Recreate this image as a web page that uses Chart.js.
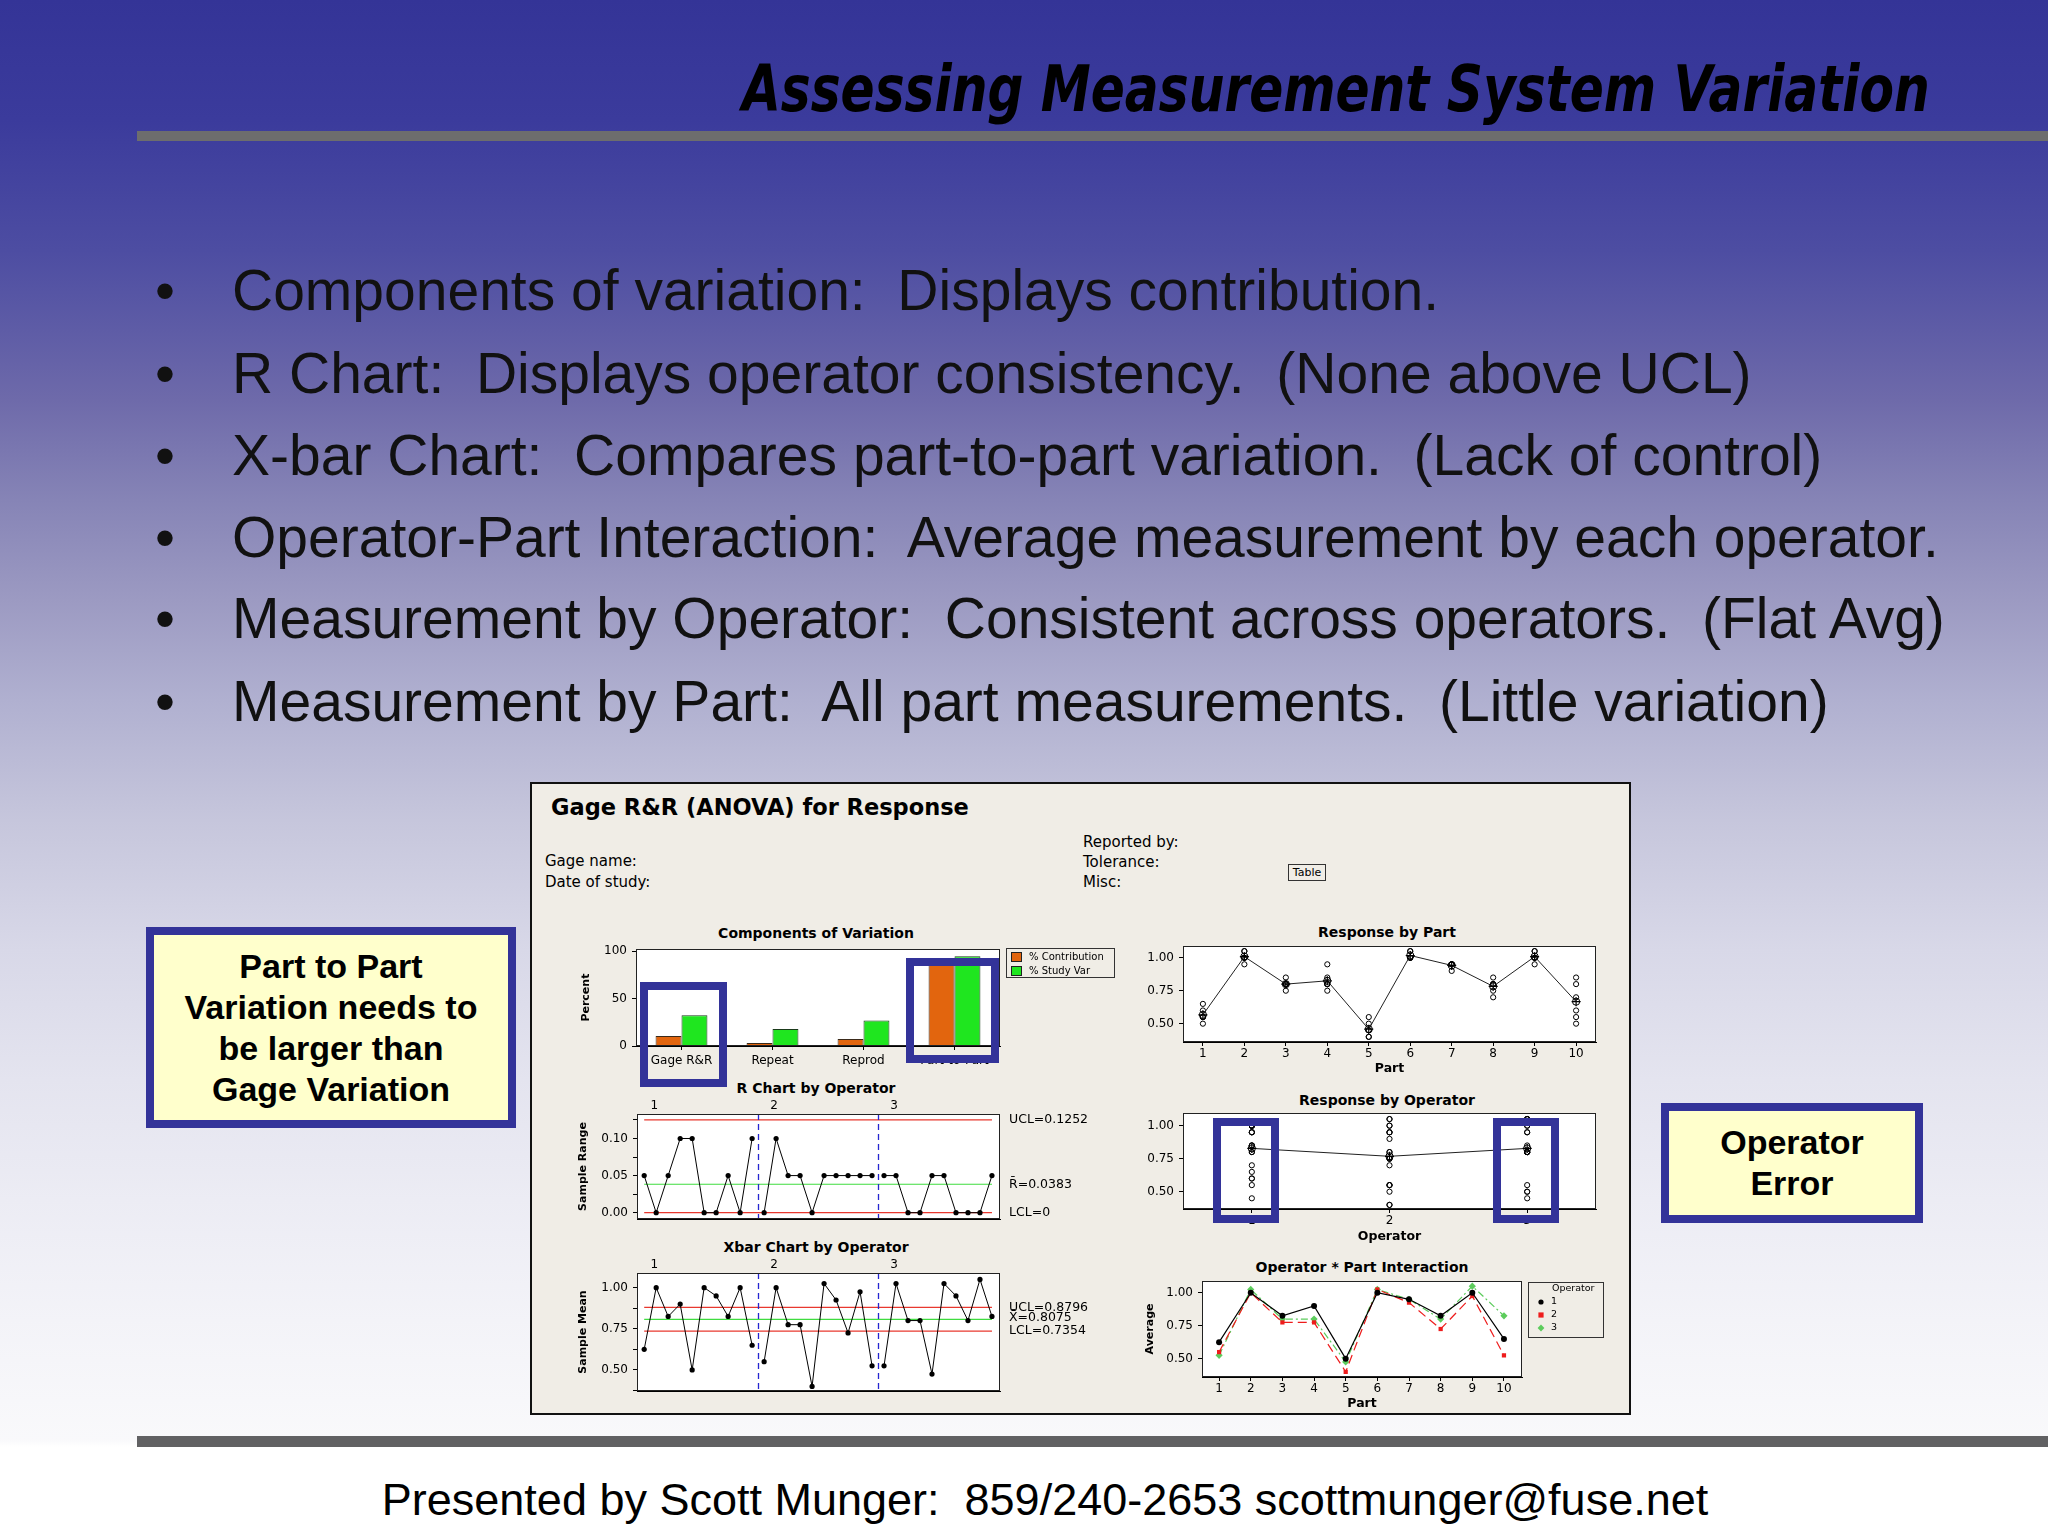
<!DOCTYPE html>
<html lang="en">
<head>
<meta charset="utf-8">
<title>Assessing Measurement System Variation</title>
<script src="https://cdn.jsdelivr.net/npm/chart.js@4.4.1/dist/chart.umd.min.js"></script>
<style>
  html, body { margin: 0; padding: 0; }
  body {
    width: 2048px; height: 1536px; position: relative; overflow: hidden;
    font-family: "Liberation Sans", Arial, sans-serif; color: #111;
    background: linear-gradient(to bottom,
      #343497 0px, #3b3b9c 120px, #4d4da2 250px, #5e5ca6 330px, #6e6aaa 400px,
      #8684b6 500px, #9c9ac2 600px, #b0b0d0 700px, #c6c6dc 820px, #d8d8e8 950px,
      #e4e4ef 1080px, #ececf4 1200px, #f3f3f8 1320px, #f9f9fb 1440px, #ffffff 1447px);
  }
  .t { position: absolute; white-space: pre; line-height: 1; }
  .mid { transform: translateY(-50%); }
  .ctr { transform: translate(-50%, -50%); }
  .bar { position: absolute; left: 137px; right: 0; }
  .bullet { font-size: 57px; }
  #title { right: 118px; top: 89px; font: italic bold 64px "DejaVu Sans", sans-serif; color: #000;
           transform-origin: right center; }
  #panel { position: absolute; left: 530px; top: 782px; width: 1101px; height: 633px;
           box-sizing: border-box; background: #f0ede6; border: 2px solid #111; }
  .mt { font-family: "DejaVu Sans", sans-serif; color: #000; }
  .ct { font: bold 14px "DejaVu Sans", sans-serif; color: #000; }
  canvas { position: absolute; }
  .hl { position: absolute; box-sizing: border-box; border: 8px solid #333399; z-index: 5; }
  .callout { position: absolute; box-sizing: border-box; border: 8px solid #333399; background: #ffffcc;
             display: flex; align-items: center; justify-content: center; text-align: center;
             font: bold 34px "Liberation Sans", Arial, sans-serif; line-height: 41px; color: #000; }
</style>
</head>
<body>

<div id="title" class="t">Assessing Measurement System Variation</div>
<div class="bar" style="top:131px;height:10px;background:#6d6d6d"></div>

<div class="t mid bullet" style="left:155px;top:290px">•</div>
<div class="t mid bullet" style="left:232px;top:290px">Components of variation:  Displays contribution.</div>
<div class="t mid bullet" style="left:155px;top:373px">•</div>
<div class="t mid bullet" style="left:232px;top:373px">R Chart:  Displays operator consistency.  (None above UCL)</div>
<div class="t mid bullet" style="left:155px;top:455px">•</div>
<div class="t mid bullet" style="left:232px;top:455px">X-bar Chart:  Compares part-to-part variation.  (Lack of control)</div>
<div class="t mid bullet" style="left:155px;top:537px">•</div>
<div class="t mid bullet" style="left:232px;top:537px">Operator-Part Interaction:  Average measurement by each operator.</div>
<div class="t mid bullet" style="left:155px;top:618px">•</div>
<div class="t mid bullet" style="left:232px;top:618px">Measurement by Operator:  Consistent across operators.  (Flat Avg)</div>
<div class="t mid bullet" style="left:155px;top:701px">•</div>
<div class="t mid bullet" style="left:232px;top:701px">Measurement by Part:  All part measurements.  (Little variation)</div>

<div id="panel"></div>
<div class="t mid mt" style="left:551px;top:807px;font-weight:bold;font-size:22.5px">Gage R&amp;R (ANOVA) for Response</div>
<div class="t mid mt" style="left:545px;top:861px;font-size:15px">Gage name:</div>
<div class="t mid mt" style="left:545px;top:882px;font-size:15px">Date of study:</div>
<div class="t mid mt" style="left:1083px;top:842px;font-size:15px">Reported by:</div>
<div class="t mid mt" style="left:1083px;top:862px;font-size:15px">Tolerance:</div>
<div class="t mid mt" style="left:1083px;top:882px;font-size:15px">Misc:</div>
<div class="t mt" style="left:1288px;top:864px;width:38px;height:17px;box-sizing:border-box;border:1px solid #333;font-size:11px;line-height:15px;text-align:center">Table</div>

<div class="t ctr ct" style="left:816px;top:933px">Components of Variation</div>
<div class="t ctr ct" style="left:816px;top:1088px">R Chart by Operator</div>
<div class="t ctr ct" style="left:816px;top:1247px">Xbar Chart by Operator</div>
<div class="t ctr ct" style="left:1387px;top:932px">Response by Part</div>
<div class="t ctr ct" style="left:1387px;top:1100px">Response by Operator</div>
<div class="t ctr ct" style="left:1362px;top:1267px">Operator * Part Interaction</div>

<canvas id="cov"></canvas>
<canvas id="rchart"></canvas>
<canvas id="xbar"></canvas>
<canvas id="bypart"></canvas>
<canvas id="byoper"></canvas>
<canvas id="inter"></canvas>

<div class="hl" style="left:640px;top:982px;width:87px;height:105px"></div>
<div class="hl" style="left:906px;top:958px;width:93px;height:105px"></div>
<div class="hl" style="left:1213px;top:1118px;width:66px;height:105px"></div>
<div class="hl" style="left:1493px;top:1118px;width:66px;height:105px"></div>

<div class="callout" style="left:146px;top:927px;width:370px;height:201px">Part to Part<br>Variation needs to<br>be larger than<br>Gage Variation</div>
<div class="callout" style="left:1661px;top:1103px;width:262px;height:120px">Operator<br>Error</div>

<div class="bar" style="top:1436px;height:11px;background:#616163"></div>
<div class="t ctr" style="left:1045px;top:1499px;font-size:45px;color:#000">Presented by Scott Munger:  859/240-2653 scottmunger@fuse.net</div>

<script>
const components = ['Gage R&R', 'Repeat', 'Reprod', 'Part-to-Part'];
const pctContribution = [10.5, 3.2, 7.3, 89.5];
const pctStudyVar = [32.4, 17.9, 27.0, 94.6];

const parts = [1, 2, 3, 4, 5, 6, 7, 8, 9, 10];
const operators = [1, 2, 3];

// subgroup ranges (R chart), one array per operator
const rangeOp1 = [0.05, 0.00, 0.05, 0.10, 0.10, 0.00, 0.00, 0.05, 0.00, 0.10];
const rangeOp2 = [0.00, 0.10, 0.05, 0.05, 0.00, 0.05, 0.05, 0.05, 0.05, 0.05];
const rangeOp3 = [0.05, 0.05, 0.00, 0.00, 0.05, 0.05, 0.00, 0.00, 0.00, 0.05];

// subgroup means (Xbar chart and interaction plot)
const meanOp1 = [0.625, 1.000, 0.825, 0.900, 0.500, 1.000, 0.950, 0.825, 1.000, 0.650];
const meanOp2 = [0.550, 1.000, 0.775, 0.775, 0.400, 1.025, 0.925, 0.725, 0.975, 0.525];
const meanOp3 = [0.525, 1.025, 0.800, 0.800, 0.475, 1.025, 0.950, 0.800, 1.050, 0.825];

// individual measurements, two trials per operator
const op1Trial1 = [0.60, 1.00, 0.80, 0.85, 0.45, 1.00, 0.95, 0.80, 1.00, 0.60];
const op1Trial2 = [0.65, 1.00, 0.85, 0.95, 0.55, 1.00, 0.95, 0.85, 1.00, 0.70];
const op2Trial1 = [0.55, 0.95, 0.75, 0.75, 0.40, 1.00, 0.90, 0.70, 0.95, 0.50];
const op2Trial2 = [0.55, 1.05, 0.80, 0.80, 0.40, 1.05, 0.95, 0.75, 1.00, 0.55];
const op3Trial1 = [0.50, 1.00, 0.80, 0.80, 0.45, 1.00, 0.95, 0.80, 1.05, 0.80];
const op3Trial2 = [0.55, 1.05, 0.80, 0.80, 0.50, 1.05, 0.95, 0.80, 1.05, 0.85];

const partMeans = [0.567, 1.008, 0.800, 0.825, 0.458, 1.017, 0.942, 0.783, 1.008, 0.667];
const operatorMeans = [0.828, 0.768, 0.828];

// control limits: UCL, centre, LCL
const rLimits = [0.1252, 0.0383, 0];
const xbarLimits = [0.8796, 0.8075, 0.7354];

// axis ticks
const percentTicks = [0, 50, 100];
const rangeTicks = [0, 0.025, 0.05, 0.075, 0.10, 0.125];
const rangeTickLabels = [0, 0.05, 0.10];
const meanTicks = [0.375, 0.50, 0.625, 0.75, 0.875, 1.00];
const meanTickLabels = [0.50, 0.75, 1.00];
const responseTicks = [0.50, 0.75, 1.00];

// ---- layout (page pixels): canvas box and plot area [left, top, right, bottom] ----
const POS = {
  cov:    { box: [575, 937, 1125, 1080],  plot: [636, 949, 1000, 1046] },
  rchart: { box: [575, 1095, 1125, 1234], plot: [637, 1114, 1000, 1219] },
  xbar:   { box: [575, 1255, 1125, 1406], plot: [637, 1273, 1000, 1391] },
  bypart: { box: [1135, 930, 1605, 1078], plot: [1183, 946, 1596, 1042] },
  byoper: { box: [1135, 1097, 1605, 1246], plot: [1183, 1113, 1596, 1209] },
  inter:  { box: [1135, 1265, 1615, 1413], plot: [1202, 1281, 1522, 1377] }
};

const FONT = 'DejaVu Sans';
const ORANGE = '#e2650e';
const GREEN = '#1fe61f';
const RED = '#e8382f';
const CENTER = '#3fdc3f';

Chart.defaults.font.family = FONT;
Chart.defaults.color = '#000';

// fit the slide title to its width in the reference
(function () {
  const el = document.getElementById('title');
  const k = 1188 / el.offsetWidth;
  el.style.transform = 'translateY(-50%) scaleX(' + k + ')';
})();

function placeCanvas(id) {
  const c = document.getElementById(id);
  const [l, t, r, b] = POS[id].box;
  c.width = r - l; c.height = b - t;
  c.style.left = l + 'px'; c.style.top = t + 'px';
  c.style.width = (r - l) + 'px'; c.style.height = (b - t) + 'px';
  return c;
}

function margins(id) {
  const [bl, bt, br, bb] = POS[id].box;
  const [pl, pt, pr, pb] = POS[id].plot;
  return { left: pl - bl, top: pt - bt, right: br - pr, bottom: bb - pb };
}

function axisTitle(text, size, pad) {
  if (!text) return { display: false };
  return { display: true, text: text, color: '#000',
           font: { family: FONT, size: size, weight: 'bold' }, padding: pad };
}

function yScale(m, o) {
  return {
    type: 'linear', position: 'left', min: o.min, max: o.max,
    afterFit: s => { s.width = m.left; },
    afterBuildTicks: s => { s.ticks = o.ticks.map(v => ({ value: v })); },
    grid: { drawOnChartArea: false, drawTicks: true, tickLength: 4, color: '#000' },
    border: { display: true, color: '#000' },
    ticks: { autoSkip: false, padding: 5, font: { size: 12 },
             callback: v => (o.labels.includes(v) ? o.fmt(v) : '') },
    title: axisTitle(o.title, 11, { top: o.titlePad || 0, bottom: 0 })
  };
}

function xLinear(m, o) {
  const shown = o.ticks !== undefined;
  return {
    type: 'linear', position: 'bottom', min: o.min, max: o.max,
    afterFit: s => { s.height = m.bottom; },
    afterBuildTicks: s => { if (shown) s.ticks = o.ticks.map(v => ({ value: v })); },
    grid: { drawOnChartArea: false, drawTicks: shown, tickLength: shown ? 4 : 0, color: '#000' },
    border: { display: true, color: '#000' },
    ticks: { display: shown, autoSkip: false, maxRotation: 0, padding: 1, font: { size: 12 }, callback: v => String(v) },
    title: axisTitle(o.title, 12.5, { top: 0, bottom: 1.5 })
  };
}

function baseOptions(m, scales, extra) {
  return {
    responsive: false, animation: false, events: [],
    layout: { padding: { left: 0, top: m.top, right: m.right, bottom: 0 } },
    plugins: Object.assign({ legend: { display: false }, tooltip: { enabled: false } }, extra || {}),
    scales: scales
  };
}

// white plot area with a thin frame, as in Minitab graphs
const framePlugin = {
  id: 'frame',
  beforeDraw(chart) {
    const { ctx, chartArea: a } = chart;
    ctx.save(); ctx.fillStyle = '#fff'; ctx.fillRect(a.left, a.top, a.width, a.height); ctx.restore();
  },
  afterDraw(chart) {
    const { ctx, chartArea: a } = chart;
    ctx.save(); ctx.strokeStyle = '#222'; ctx.lineWidth = 1;
    ctx.strokeRect(Math.round(a.left) + 0.5, Math.round(a.top) + 0.5, Math.round(a.width) - 1, Math.round(a.height) - 1);
    ctx.restore();
  }
};

// dashed stage breaks and operator labels on the control charts
const stagePlugin = {
  id: 'stages',
  afterDatasetsDraw(chart, args, opts) {
    if (!opts.labels) return;
    const { ctx, chartArea: a, scales: { x } } = chart;
    ctx.save();
    ctx.strokeStyle = '#2626d0'; ctx.lineWidth = 1.3; ctx.setLineDash([6, 4]);
    for (let s = 1; s < opts.labels.length; s++) {
      const px = Math.round(x.getPixelForValue(s * opts.size - 0.5)) + 0.5;
      ctx.beginPath(); ctx.moveTo(px, a.top); ctx.lineTo(px, a.bottom); ctx.stroke();
    }
    ctx.setLineDash([]);
    ctx.fillStyle = '#000'; ctx.font = '12px ' + FONT; ctx.textAlign = 'center'; ctx.textBaseline = 'bottom';
    opts.labels.forEach((t, s) => ctx.fillText(String(t), x.getPixelForValue(s * opts.size) + 10, a.top - 2));
    ctx.restore();
  }
};

// control limit labels to the right of the plot
const sideLabelPlugin = {
  id: 'sideLabels',
  afterDraw(chart, args, opts) {
    if (!opts.items) return;
    const { ctx, chartArea: a, scales: { y } } = chart;
    ctx.save();
    ctx.fillStyle = '#000'; ctx.font = '12.5px ' + FONT; ctx.textAlign = 'left'; ctx.textBaseline = 'middle';
    opts.items.forEach(it => ctx.fillText(it.text, a.right + 9, y.getPixelForValue(it.value) + (it.dy || 0)));
    ctx.restore();
  }
};

function marker(ctx, style, x, y, r) {
  ctx.beginPath();
  if (style === 'rect') ctx.rect(x - r, y - r, 2 * r, 2 * r);
  else if (style === 'rectRot') { ctx.moveTo(x, y - r * 1.3); ctx.lineTo(x + r * 1.3, y); ctx.lineTo(x, y + r * 1.3); ctx.lineTo(x - r * 1.3, y); ctx.closePath(); }
  else ctx.arc(x, y, r, 0, Math.PI * 2);
  ctx.fill();
}

const covLegend = {
  id: 'covLegend',
  afterDraw(chart) {
    const { ctx, chartArea: a } = chart;
    const x0 = Math.round(a.right) + 6, y0 = Math.round(a.top) - 1;
    ctx.save();
    ctx.strokeStyle = '#333'; ctx.lineWidth = 1; ctx.strokeRect(x0 + 0.5, y0 + 0.5, 108, 29);
    ctx.font = '10px ' + FONT; ctx.textAlign = 'left'; ctx.textBaseline = 'middle';
    chart.data.datasets.forEach((ds, i) => {
      const cy = y0 + 9 + i * 14;
      ctx.fillStyle = ds.backgroundColor; ctx.fillRect(x0 + 5, cy - 5, 11, 10);
      ctx.strokeStyle = '#222'; ctx.strokeRect(x0 + 5.5, cy - 4.5, 10, 9);
      ctx.fillStyle = '#000'; ctx.fillText(ds.label, x0 + 23, cy);
    });
    ctx.restore();
  }
};

const interLegend = {
  id: 'interLegend',
  afterDraw(chart) {
    const { ctx, chartArea: a } = chart;
    const x0 = Math.round(a.right) + 6, y0 = Math.round(a.top) + 1;
    ctx.save();
    ctx.strokeStyle = '#333'; ctx.lineWidth = 1; ctx.strokeRect(x0 + 0.5, y0 + 0.5, 75, 55);
    ctx.font = '9.5px ' + FONT; ctx.textAlign = 'left'; ctx.textBaseline = 'middle'; ctx.fillStyle = '#000';
    ctx.fillText('Operator', x0 + 24, y0 + 7);
    chart.data.datasets.forEach((ds, i) => {
      const cy = y0 + 20 + i * 13;
      ctx.fillStyle = ds.pointBackgroundColor; marker(ctx, ds.pointStyle, x0 + 13, cy, 2.6);
      ctx.fillStyle = '#000'; ctx.fillText(ds.label, x0 + 23, cy);
    });
    ctx.restore();
  }
};

// ---- helpers that turn the arrays into chart points ----
const stageSize = parts.length;
const lastSubgroup = operators.length * stageSize - 1;
const stagePoints = (values, stage) => values.map((v, i) => ({ x: stage * stageSize + i, y: v }));
const limitLine = v => [{ x: 0, y: v }, { x: lastSubgroup, y: v }];
const byPart = values => parts.map((p, i) => ({ x: p, y: values[i] }));
const atX = (x, values) => values.map(v => ({ x: x, y: v }));

function stageSet(values, stage) {
  return { data: stagePoints(values, stage), showLine: true, borderColor: '#000', borderWidth: 1,
           pointRadius: 2.6, pointBackgroundColor: '#000', pointBorderWidth: 0 };
}
function limitSet(v, color) {
  return { data: limitLine(v), showLine: true, borderColor: color, borderWidth: 1.2, pointRadius: 0 };
}
const openCircles = data => ({ data: data, pointStyle: 'circle', pointRadius: 2.6, pointBorderWidth: 1,
                               pointBorderColor: '#000', pointBackgroundColor: 'rgba(0,0,0,0)' });
const meanLine = data => ({ data: data, showLine: true, borderColor: '#222', borderWidth: 1, pointStyle: 'circle',
                            pointRadius: 3.6, pointBorderWidth: 1, pointBorderColor: '#000', pointBackgroundColor: 'rgba(0,0,0,0)' });
const meanCross = data => ({ data: data, pointStyle: 'cross', pointRadius: 4.5, pointBorderWidth: 1.2, pointBorderColor: '#000' });

// ---- Components of Variation ----
(function () {
  const m = margins('cov');
  new Chart(placeCanvas('cov'), {
    type: 'bar',
    data: {
      labels: components,
      datasets: [
        { label: '% Contribution', data: pctContribution, backgroundColor: ORANGE, borderColor: '#3a2a1a',
          borderWidth: 1, categoryPercentage: 0.57, barPercentage: 1 },
        { label: '% Study Var', data: pctStudyVar, backgroundColor: GREEN, borderColor: '#1a3a1a',
          borderWidth: 1, categoryPercentage: 0.57, barPercentage: 1 }
      ]
    },
    options: baseOptions(m, {
      x: { type: 'category', offset: true, afterFit: s => { s.height = m.bottom; },
           grid: { offset: false, drawOnChartArea: false, tickLength: 4, color: '#000' },
           border: { display: true, color: '#000' },
           ticks: { autoSkip: false, maxRotation: 0, padding: 4, font: { size: 12 } } },
      y: yScale(m, { min: 0, max: 102, ticks: percentTicks, labels: percentTicks, fmt: v => String(v),
                     title: 'Percent', titlePad: 5 })
    }),
    plugins: [framePlugin, covLegend]
  });
})();

// ---- R Chart by Operator ----
(function () {
  const m = margins('rchart');
  new Chart(placeCanvas('rchart'), {
    type: 'scatter',
    data: { datasets: [
      stageSet(rangeOp1, 0), stageSet(rangeOp2, 1), stageSet(rangeOp3, 2),
      limitSet(rLimits[0], RED), limitSet(rLimits[1], CENTER), limitSet(rLimits[2], RED)
    ] },
    options: baseOptions(m, {
      x: xLinear(m, { min: -0.6, max: lastSubgroup + 0.67 }),
      y: yScale(m, { min: -0.0085, max: 0.133, ticks: rangeTicks, labels: rangeTickLabels,
                     fmt: v => v.toFixed(2), title: 'Sample Range', titlePad: 1.4 })
    }, {
      stages: { labels: operators, size: stageSize },
      sideLabels: { items: [
        { value: rLimits[0], text: 'UCL=' + rLimits[0] },
        { value: rLimits[1], text: 'R\u0304=' + rLimits[1] },
        { value: rLimits[2], text: 'LCL=' + rLimits[2] }
      ] }
    }),
    plugins: [framePlugin, stagePlugin, sideLabelPlugin]
  });
})();

// ---- Xbar Chart by Operator ----
(function () {
  const m = margins('xbar');
  new Chart(placeCanvas('xbar'), {
    type: 'scatter',
    data: { datasets: [
      stageSet(meanOp1, 0), stageSet(meanOp2, 1), stageSet(meanOp3, 2),
      limitSet(xbarLimits[0], RED), limitSet(xbarLimits[1], CENTER), limitSet(xbarLimits[2], RED)
    ] },
    options: baseOptions(m, {
      x: xLinear(m, { min: -0.6, max: lastSubgroup + 0.67 }),
      y: yScale(m, { min: 0.372, max: 1.089, ticks: meanTicks, labels: meanTickLabels,
                     fmt: v => v.toFixed(2), title: 'Sample Mean', titlePad: 1.4 })
    }, {
      stages: { labels: operators, size: stageSize },
      sideLabels: { items: [
        { value: xbarLimits[0], text: 'UCL=' + xbarLimits[0] },
        { value: xbarLimits[1], text: 'X\u0304=' + xbarLimits[1], dy: -2 },
        { value: xbarLimits[2], text: 'LCL=' + xbarLimits[2] }
      ] }
    }),
    plugins: [framePlugin, stagePlugin, sideLabelPlugin]
  });
})();

// ---- Response by Part ----
(function () {
  const m = margins('bypart');
  const measured = [].concat(byPart(op1Trial1), byPart(op1Trial2), byPart(op2Trial1),
                             byPart(op2Trial2), byPart(op3Trial1), byPart(op3Trial2));
  new Chart(placeCanvas('bypart'), {
    type: 'scatter',
    data: { datasets: [meanCross(byPart(partMeans)), meanLine(byPart(partMeans)), openCircles(measured)] },
    options: baseOptions(m, {
      x: xLinear(m, { min: 0.52, max: 10.48, ticks: parts, title: 'Part' }),
      y: yScale(m, { min: 0.361, max: 1.089, ticks: responseTicks, labels: responseTicks, fmt: v => v.toFixed(2) })
    }),
    plugins: [framePlugin]
  });
})();

// ---- Response by Operator ----
(function () {
  const m = margins('byoper');
  const measured = [].concat(atX(1, op1Trial1), atX(1, op1Trial2), atX(2, op2Trial1),
                             atX(2, op2Trial2), atX(3, op3Trial1), atX(3, op3Trial2));
  const means = operators.map((o, i) => ({ x: o, y: operatorMeans[i] }));
  new Chart(placeCanvas('byoper'), {
    type: 'scatter',
    data: { datasets: [meanCross(means), meanLine(means), openCircles(measured)] },
    options: baseOptions(m, {
      x: xLinear(m, { min: 0.5, max: 3.5, ticks: operators, title: 'Operator' }),
      y: yScale(m, { min: 0.369, max: 1.096, ticks: responseTicks, labels: responseTicks, fmt: v => v.toFixed(2) })
    }),
    plugins: [framePlugin]
  });
})();

// ---- Operator * Part Interaction ----
(function () {
  const m = margins('inter');
  const opSet = (label, values, color, dash, style, r) => ({
    label: label, data: byPart(values), showLine: true, borderColor: color, borderWidth: 1.2, borderDash: dash,
    pointStyle: style, pointRadius: r, pointBackgroundColor: color, pointBorderColor: color, pointBorderWidth: 0
  });
  new Chart(placeCanvas('inter'), {
    type: 'scatter',
    data: { datasets: [
      opSet(String(operators[0]), meanOp1, '#000', [], 'circle', 3),
      opSet(String(operators[1]), meanOp2, '#ee1c1c', [9, 5], 'rect', 3),
      opSet(String(operators[2]), meanOp3, '#5ccc5c', [7, 3, 2, 3], 'rectRot', 3.6)
    ] },
    options: baseOptions(m, {
      x: xLinear(m, { min: 0.46, max: 10.57, ticks: parts, title: 'Part' }),
      y: yScale(m, { min: 0.361, max: 1.089, ticks: responseTicks, labels: responseTicks,
                     fmt: v => v.toFixed(2), title: 'Average', titlePad: 8.4 })
    }),
    plugins: [framePlugin, interLegend]
  });
})();
</script>
</body>
</html>
